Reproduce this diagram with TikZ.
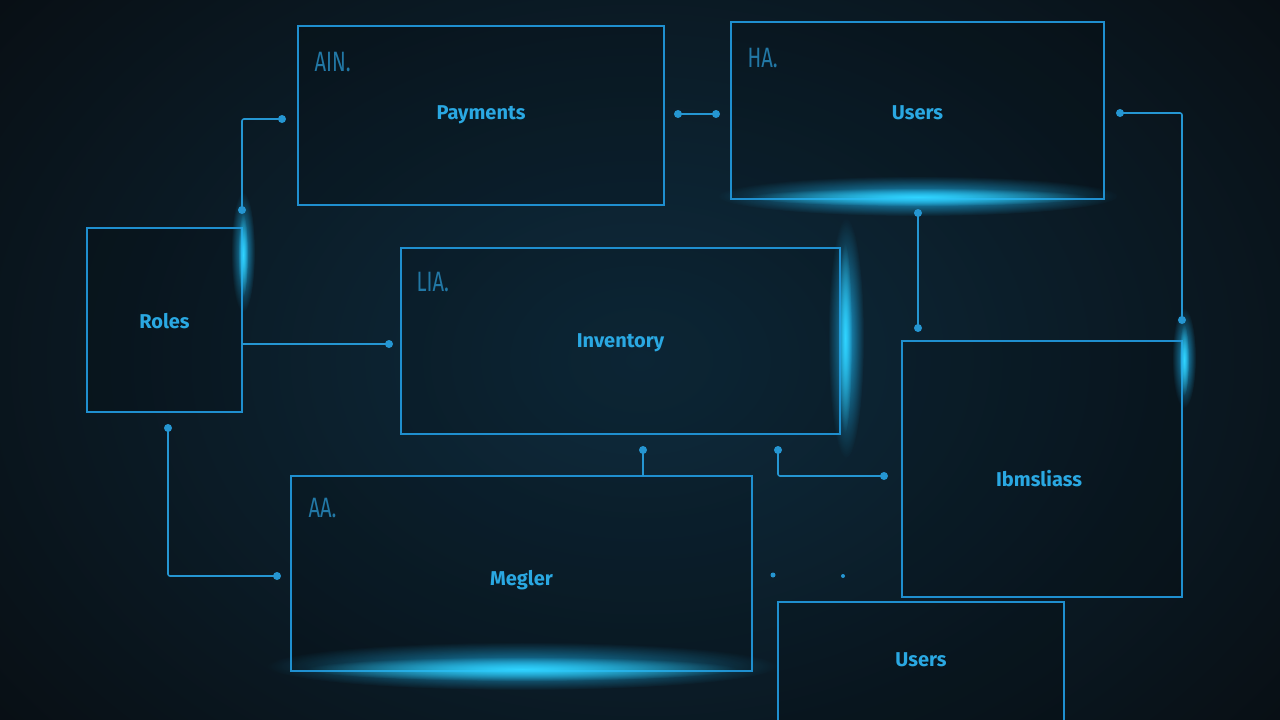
\documentclass[tikz,border=0pt]{standalone}
\usepackage{fontspec}
\setmainfont{Fira Sans}
\newfontfamily\tagfont[FakeStretch=0.72]{Fira Sans}
\usetikzlibrary{fadings}
\definecolor{bgin}{HTML}{0E2B3D}
\definecolor{bgout}{HTML}{080E13}
\definecolor{boxc}{HTML}{1F8FCF}
\definecolor{linec}{HTML}{2596D2}
\definecolor{labc}{HTML}{2AA8E2}
\definecolor{tagc}{HTML}{2278A6}
\definecolor{glowc}{HTML}{1FC0FF}
\definecolor{corec}{HTML}{30D4FF}
\tikzfading[name=glowfade, inner color=transparent!0, outer color=transparent!100]
\tikzfading[name=corefade, inner color=transparent!0, outer color=transparent!100]
\tikzset{
  box/.style={draw=boxc, line width=1.5pt, fill=black, fill opacity=0.12, text opacity=1,
    inner sep=0pt},
  lab/.style={text=labc, font=\bfseries\fontsize{20}{22}\selectfont},
  dot/.style={circle, fill=linec, inner sep=0pt, minimum size=8pt},
  sdot/.style={circle, fill=linec, inner sep=0pt, minimum size=5pt},
  wire/.style={draw=linec, line width=1.6pt, rounded corners=2pt},
  tag/.style={anchor=west, text=tagc, font=\tagfont\fontsize{28}{30}\selectfont},
  glow/.style={fill=glowc, path fading=glowfade},
  core/.style={fill=corec, path fading=corefade}
}
\begin{document}
\begin{tikzpicture}[x=1pt,y=-1pt]
\useasboundingbox (0,0) rectangle (1280,720);
\shade[inner color=bgin, outer color=bgout] (-200,-250) rectangle (1480,970);

% glows (behind boxes)
\fill[glow, opacity=0.9] (918,196) ellipse (200 and 20);
\fill[glow, opacity=0.8] (522,666) ellipse (255 and 24);
\fill[glow, opacity=0.8] (846,338) ellipse (18 and 120);
\fill[glow, opacity=0.8] (243,252) ellipse (12 and 60);
\fill[glow, opacity=0.8] (1184,358) ellipse (12 and 50);

% boxes
\node[box, minimum width=366pt, minimum height=179pt] (pay) at (481,115.5) {};
\node[box, minimum width=373pt, minimum height=177pt] (usr) at (917.5,110.5) {};
\node[box, minimum width=155pt, minimum height=184pt] (rol) at (164.5,320) {};
\node[box, minimum width=439pt, minimum height=186pt] (inv) at (620.5,341) {};
\node[box, minimum width=461pt, minimum height=195pt] (meg) at (521.5,573.5) {};
\node[box, minimum width=280pt, minimum height=256pt] (ibm) at (1042,469) {};
\begin{scope}
\clip (0,0) rectangle (1280,720);
\node[box, minimum width=286pt, minimum height=140pt] (usb) at (921,672) {};
\end{scope}

% glow cores (over edges)
\fill[core] (918,197) ellipse (170 and 9);
\fill[core] (522,669) ellipse (215 and 12);
\fill[core] (845,338) ellipse (7 and 95);
\fill[core] (243,255) ellipse (5 and 42);
\fill[core] (1184,360) ellipse (5 and 36);

% labels
\node[lab] (lpay) at (pay.center |- 0,115) {Payments};
\node[lab] (lusr) at (usr.center |- 0,113) {Users};
\node[lab] (lrol) at (rol.center |- 0,321) {Roles};
\node[lab] (linv) at (inv.center |- 0,343) {Inventory};
\node[lab] (lmeg) at (meg.center |- 0,580) {Megler};
\node[lab] (libm) at (1039,479) {Ibmsliass};
\node[lab] (lusb) at (921,660) {Users};

% tags
\node[tag] (tpay) at (311,62) {AIN.};
\node[tag] (tusr) at (744,58) {HA.};
\node[tag] (tinv) at (413,282) {LIA.};
\node[tag] (tmeg) at (305,508) {AA.};

% connector dots and points
\node[dot] (d1a) at (242,210) {};
\node[dot] (d1b) at (282,119) {};
\node[dot] (d2a) at (678,114) {};
\node[dot] (d2b) at (716,114) {};
\node[dot] (d3a) at (1120,113) {};
\node[dot] (d3b) at (1182,320) {};
\node[dot] (d4a) at (918,213) {};
\node[dot] (d4b) at (918,328) {};
\coordinate (c5a) at (242,344);
\node[dot] (d5b) at (389,344) {};
\node[dot] (d6a) at (168,428) {};
\node[dot] (d6b) at (277,576) {};
\node[dot] (d7a) at (643,450) {};
\coordinate (c7b) at (643,476);
\node[dot] (d8a) at (778,450) {};
\node[dot] (d8b) at (884,476) {};
\node[sdot] (s1) at (773,575) {};
\node[sdot, minimum size=4pt] (s2) at (843,576) {};

% wires
\draw[wire] (d1a.center) |- (d1b.center);
\draw[wire] (d2a.center) -- (d2b.center);
\draw[wire] (d3a.center) -| (d3b.center);
\draw[wire] (d4a.center) -- (d4b.center);
\draw[wire] (c5a) -- (d5b.center);
\draw[wire] (d6a.center) |- (d6b.center);
\draw[wire] (d7a.center) -- (c7b);
\draw[wire] (d8a.center) |- (d8b.center);
\end{tikzpicture}
\end{document}
